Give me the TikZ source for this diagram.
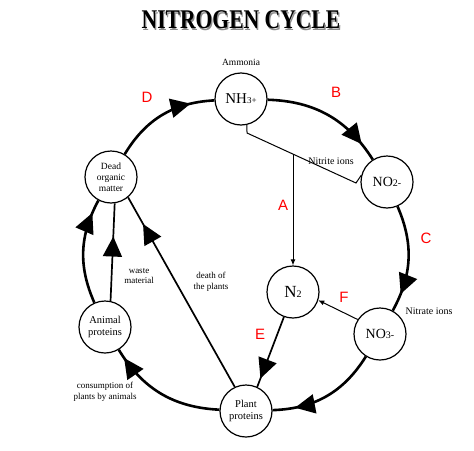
\documentclass[tikz,border=0pt]{standalone}
\usepackage{fontspec}
\setmainfont{Liberation Serif}
\newfontfamily\letterfont{Liberation Sans}
\usetikzlibrary{arrows.meta,decorations.markings}

\tikzset{
  stage/.style={draw,circle,minimum size=52pt,inner sep=0pt,line width=1.2pt,align=center,
    font=\fontsize{10.5}{12}\selectfont},
  cycarc/.style={line width=2.6pt},
  feed/.style={line width=1.7pt},
  thinline/.style={line width=1pt},
  bigtip/.style={postaction={decorate},decoration={markings,
    mark=at position #1 with {\arrow{Triangle[length=20pt,width=19pt]}}}},
  letter/.style={text=red,font=\letterfont\fontsize{15}{15}\selectfont},
  note/.style={align=center,font=\fontsize{9}{10.5}\selectfont},
}

\begin{document}
\begin{tikzpicture}[x=1pt,y=1pt]
  \useasboundingbox (0,0) rectangle (474,-450);

  \node[font=\bfseries\fontsize{27}{27}\selectfont,xscale=0.8] (title) at (241,-21)
    {\rlap{\kern1.5pt\raisebox{-2pt}{\color{black!45}NITROGEN CYCLE}}NITROGEN CYCLE};

  \node[stage,font=\fontsize{15}{15}\selectfont] (nh) at (241,-99) {NH{\fontsize{9}{9}\selectfont 3+}};
  \node[stage,font=\fontsize{14}{14}\selectfont] (notwo) at (387,-182) {NO{\fontsize{10}{10}\selectfont 2-}};
  \node[stage,font=\fontsize{14}{14}\selectfont] (nothree) at (380,-334) {NO{\fontsize{10}{10}\selectfont 3-}};
  \node[stage] (plant) at (246,-411) {Plant\\proteins};
  \node[stage] (animal) at (105,-327) {Animal\\proteins};
  \node[stage,font=\fontsize{9.5}{11}\selectfont] (dead) at (111,-177) {Dead\\organic\\matter};
  \node[stage,font=\fontsize{17}{17}\selectfont] (ntwo) at (293,-292) {N{\fontsize{10}{10}\selectfont 2}};

  \draw[cycarc,bigtip=0.78] (dead) to[bend left=28] (nh);
  \draw[cycarc,bigtip=0.85] (nh) to[bend left=28] (notwo);
  \draw[cycarc,bigtip=0.83] (notwo) to[bend left=26] (nothree);
  \draw[cycarc,bigtip=0.8] (nothree) to[bend left=28] (plant);
  \draw[cycarc,bigtip=0.92] (plant) to[bend left=28] (animal);
  \draw[cycarc,bigtip=0.87] (animal) to[bend left=26] (dead);

  \draw[feed,bigtip=0.66] (animal.78) -- (dead.-82);
  \draw[feed,bigtip=0.86] (plant.115) -- (dead.-50);
  \draw[feed,bigtip=0.88] (ntwo.-110) -- (plant.65);

  \coordinate (bend1) at (247,-133);
  \coordinate (bend2) at (356,-183);
  \coordinate (atop) at (293,-154);
  \draw[thinline] (nh.-77) -- (bend1) -- (bend2) -- (notwo.165);
  \draw[thinline,-{Latex[length=6pt,width=5pt]}] (atop) -- (ntwo.north);
  \draw[thinline,-{Latex[length=6pt,width=5pt]}] (nothree.147) -- (ntwo.-18);

  \node[note,font=\fontsize{9.5}{10}\selectfont] (ammonia) at (241,-62) {Ammonia};
  \node[note,font=\fontsize{10}{10}\selectfont] (nitrite) at (331,-161) {Nitrite ions};
  \node[note,font=\fontsize{10}{10}\selectfont] (nitrate) at (429,-311) {Nitrate ions};
  \node[note] (waste) at (139,-276) {waste\\material};
  \node[note] (death) at (211,-282) {death of\\the plants};
  \node[note] (eat) at (105,-392) {consumption of\\plants by animals};

  \node[letter] (la) at (283,-205) {A};
  \node[letter] (lb) at (336,-92) {B};
  \node[letter] (lc) at (426,-238) {C};
  \node[letter] (ld) at (147,-97) {D};
  \node[letter] (le) at (260,-334) {E};
  \node[letter] (lf) at (344,-297) {F};
\end{tikzpicture}
\end{document}
